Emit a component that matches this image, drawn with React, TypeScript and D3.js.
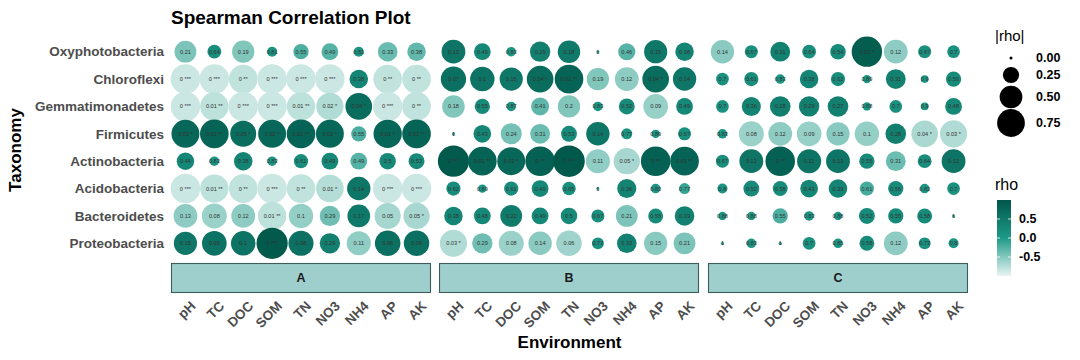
import { useRef, useEffect } from "react"
import * as d3 from "d3"

const taxa = [
  "Oxyphotobacteria",
  "Chloroflexi",
  "Gemmatimonadetes",
  "Firmicutes",
  "Actinobacteria",
  "Acidobacteria",
  "Bacteroidetes",
  "Proteobacteria",
]
const envVars = ["pH", "TC", "DOC", "SOM", "TN", "NO3", "NH4", "AP", "AK"]
const groups = ["A", "B", "C"]

// spearman rho, rows follow taxa, columns follow envVars
const rhoA = [
  [-0.46, 0.18, -0.48, 0.09, -0.22, -0.27, 0.09, -0.37, -0.33],
  [-0.85, -0.85, -0.8, -0.85, -0.85, -0.85, 0.33, -0.8, -0.8],
  [-0.85, -0.78, -0.85, -0.85, -0.78, -0.72, 0.69, -0.85, -0.8],
  [0.76, 0.8, 0.66, 0.76, 0.8, 0.76, -0.22, 0.78, 0.8],
  [0.29, 0.08, 0.33, 0.08, 0.19, 0.27, -0.27, 0.26, 0.24],
  [-0.85, -0.78, -0.8, -0.85, -0.8, -0.74, 0.53, -0.85, -0.85],
  [-0.55, -0.61, -0.55, -0.78, -0.58, -0.4, 0.5, -0.66, -0.67],
  [0.52, 0.59, 0.58, 0.95, 0.61, 0.4, -0.56, 0.63, 0.63],
]
const rhoB = [
  [0.55, 0.27, 0.08, 0.4, 0.49, 0, -0.28, 0.52, 0.33],
  [0.62, 0.58, 0.52, 0.69, 0.8, -0.48, -0.55, 0.69, 0.53],
  [-0.49, 0.22, 0.08, -0.31, -0.48, 0.08, 0.24, -0.59, 0.27],
  [0, 0.3, -0.43, -0.38, 0.24, 0.53, 0.11, 0.06, 0.16],
  [0.95, 0.8, 0.76, 0.85, 0.97, -0.56, -0.67, 0.85, 0.8],
  [0.19, 0.06, 0.19, 0.27, 0.17, 0, 0.35, 0.08, -0.11],
  [0.33, 0.27, 0.46, 0.27, 0.26, 0.16, -0.46, 0.21, 0.37],
  [-0.72, -0.4, -0.61, -0.53, -0.63, 0.13, 0.37, -0.52, -0.46],
]
const rhoC = [
  [-0.53, 0.16, 0.38, 0.18, 0.23, 0.9, -0.55, 0.16, 0.15],
  [0.15, 0.19, 0.08, 0.33, 0.19, 0.06, 0.38, 0.05, 0.22],
  [0.15, 0.35, 0.41, 0.4, 0.41, 0.06, 0.15, 0.05, 0.27],
  [0.08, -0.61, -0.55, -0.59, -0.52, -0.58, 0.41, -0.69, -0.72],
  [0.16, 0.55, 0.85, 0.56, 0.55, 0.22, -0.38, 0.18, 0.55],
  [0.09, 0.24, 0.21, 0.3, 0.33, -0.19, 0.22, 0.08, 0.15],
  [0.06, 0.06, -0.22, 0.08, 0.06, 0.24, 0.22, 0.21, 0],
  [0, 0.08, 0, 0.15, 0.08, 0.21, -0.55, 0.13, 0.09],
]

// p-value labels with significance stars
const pA = [
  ["0.21", "0.64", "0.19", "0.81", "0.55", "0.49", "0.81", "0.33", "0.38"],
  ["0 ***", "0 ***", "0 **", "0 ***", "0 ***", "0 ***", "0.38", "0 **", "0 **"],
  ["0 ***", "0.01 **", "0 ***", "0 ***", "0.01 **", "0.02 *", "0.04 *", "0 ***", "0 **"],
  ["0.02 *", "0.01 **", "0.05 *", "0.02 *", "0.01 **", "0.02 *", "0.55", "0.01 *", "0.01 **"],
  ["0.44", "0.83", "0.38", "0.83", "0.61", "0.49", "0.49", "0.5", "0.53"],
  ["0 ***", "0.01 **", "0 **", "0 ***", "0 **", "0.01 *", "0.14", "0 ***", "0 ***"],
  ["0.13", "0.08", "0.12", "0.01 **", "0.1", "0.29", "0.17", "0.05", "0.05 *"],
  ["0.15", "0.09", "0.1", "0 ***", "0.08", "0.29", "0.11", "0.06", "0.06"],
]
const pB = [
  ["0.13", "0.49", "0.83", "0.29", "0.18", "1", "0.46", "0.15", "0.38"],
  ["0.07", "0.1", "0.15", "0.04 *", "0.01 **", "0.19", "0.12", "0.04 *", "0.14"],
  ["0.18", "0.55", "0.87", "0.41", "0.2", "0.83", "0.52", "0.09", "0.49"],
  ["1", "0.43", "0.24", "0.31", "0.53", "0.14", "0.77", "0.89", "0.67"],
  ["0 ***", "0.01 **", "0.02 *", "0 **", "0 ***", "0.11", "0.05 *", "0 **", "0.01 **"],
  ["0.62", "0.89", "0.61", "0.49", "0.65", "1", "0.36", "0.83", "0.77"],
  ["0.38", "0.48", "0.22", "0.49", "0.5", "0.67", "0.21", "0.58", "0.33"],
  ["0.03 *", "0.29", "0.08", "0.14", "0.06", "0.73", "0.33", "0.15", "0.21"],
]
const pC = [
  ["0.14", "0.67", "0.31", "0.64", "0.54", "0.02 *", "0.12", "0.67", "0.7"],
  ["0.7", "0.61", "0.83", "0.38", "0.62", "0.89", "0.31", "0.9", "0.56"],
  ["0.7", "0.36", "0.28", "0.29", "0.27", "0.88", "0.7", "0.9", "0.48"],
  ["0.83", "0.08", "0.12", "0.09", "0.15", "0.1", "0.28", "0.04 *", "0.03 *"],
  ["0.67", "0.12", "0 **", "0.11", "0.13", "0.55", "0.31", "0.64", "0.12"],
  ["0.8", "0.52", "0.58", "0.43", "0.39", "0.61", "0.56", "0.83", "0.7"],
  ["0.88", "0.88", "0.55", "0.83", "0.88", "0.52", "0.55", "0.58", "1"],
  ["1", "0.83", "1", "0.7", "0.85", "0.58", "0.12", "0.73", "0.8"],
]

const sizeBreaks = [0, 0.25, 0.5, 0.75]
const colorTicks = [0.5, 0, -0.5]

export default function App() {
  const svgRef = useRef<SVGSVGElement>(null)

  function drawChart() {
    const width = 1080
    const height = 360
    const fontFamily = "'Liberation Sans', Arial, Helvetica, sans-serif"
    const panelLeft = [171, 439, 708]
    const panelWidth = 260
    const panelTop = 38
    const panelBottom = 257

    const svg = d3.select(svgRef.current).attr("width", width).attr("height", height)
    svg.selectAll("*").remove()
    svg.append("rect").attr("width", width).attr("height", height).attr("fill", "#fff")

    const y = d3.scaleBand().domain(taxa).range([panelTop, panelBottom])
    const radius = d3.scaleRadial().domain([0, 1]).range([1.5, 16])
    const color = d3
      .scaleLinear<string>()
      .domain([-1, 0, 1])
      .range(["#eaf5f3", "#1e9a88", "#00574a"])

    // Title
    svg
      .append("text")
      .text("Spearman Correlation Plot")
      .attr("x", 171)
      .attr("y", 24)
      .style("font-size", "19px")
      .style("font-weight", "bold")
      .style("font-family", fontFamily)
      .attr("fill", "#000")

    // Panels
    const allRho = [rhoA, rhoB, rhoC]
    const allP = [pA, pB, pC]
    groups.forEach((g, gi) => {
      const x = d3
        .scaleBand()
        .domain(envVars)
        .range([panelLeft[gi], panelLeft[gi] + panelWidth])
      const cells = taxa.flatMap((t, ri) =>
        envVars.map((e, ci) => ({ t, e, rho: allRho[gi][ri][ci], p: allP[gi][ri][ci] }))
      )
      const panel = svg.append("g").attr("id", `panel${g}`)
      panel
        .selectAll("circle")
        .data(cells)
        .enter()
        .append("circle")
        .attr("cx", (d) => x(d.e)! + x.bandwidth() / 2)
        .attr("cy", (d) => y(d.t)! + y.bandwidth() / 2)
        .attr("r", (d) => radius(Math.abs(d.rho)))
        .attr("fill", (d) => color(d.rho))
      panel
        .selectAll("text.plab")
        .data(cells)
        .enter()
        .append("text")
        .attr("class", "plab")
        .text((d) => d.p)
        .attr("x", (d) => x(d.e)! + x.bandwidth() / 2)
        .attr("y", (d) => y(d.t)! + y.bandwidth() / 2)
        .attr("dy", "0.35em")
        .attr("text-anchor", "middle")
        .attr("fill", "#333")
        .style("font-size", "5.6px")
        .style("font-family", fontFamily)

      // strip
      panel
        .append("rect")
        .attr("x", panelLeft[gi] + 0.5)
        .attr("y", 263.5)
        .attr("width", panelWidth - 1)
        .attr("height", 29)
        .attr("fill", "#9ecfcc")
        .attr("stroke", "#3d5c5a")
        .attr("stroke-width", 1.1)
      panel
        .append("text")
        .text(g)
        .attr("x", panelLeft[gi] + panelWidth / 2)
        .attr("y", 278)
        .attr("dy", "0.35em")
        .attr("text-anchor", "middle")
        .attr("fill", "#1a1a1a")
        .style("font-size", "12.5px")
        .style("font-weight", "bold")
        .style("font-family", fontFamily)

      // x tick labels
      panel
        .selectAll("text.xlab")
        .data(envVars)
        .enter()
        .append("text")
        .attr("class", "xlab")
        .text((d) => d)
        .attr("transform", (d) => `translate(${x(d)! + x.bandwidth() / 2 + 4}, 300) rotate(-45)`)
        .attr("dy", "0.72em")
        .attr("text-anchor", "end")
        .attr("fill", "#4d4d4d")
        .style("font-size", "13.5px")
        .style("font-weight", "bold")
        .style("font-family", fontFamily)
    })

    // Left axis
    svg
      .append("g")
      .selectAll("text")
      .data(taxa)
      .enter()
      .append("text")
      .text((d) => d)
      .attr("x", 164)
      .attr("y", (d) => y(d)! + y.bandwidth() / 2)
      .attr("dy", "0.35em")
      .attr("text-anchor", "end")
      .attr("fill", "#4d4d4d")
      .style("font-size", "13.5px")
      .style("font-weight", "bold")
      .style("font-family", fontFamily)

    // Axis titles
    svg
      .append("text")
      .text("Environment")
      .attr("x", 569.5)
      .attr("y", 348)
      .attr("text-anchor", "middle")
      .style("font-size", "17px")
      .style("font-weight", "bold")
      .style("font-family", fontFamily)
    svg
      .append("text")
      .text("Taxonomy")
      .attr("transform", "translate(21, 150) rotate(-90)")
      .attr("text-anchor", "middle")
      .style("font-size", "17px")
      .style("font-weight", "bold")
      .style("font-family", fontFamily)

    // Size legend
    const sizeLegend = svg.append("g").attr("id", "sizeLegend")
    sizeLegend
      .append("text")
      .text("|rho|")
      .attr("x", 995)
      .attr("y", 41)
      .style("font-size", "15px")
      .style("font-family", fontFamily)
    const sizeY = [58, 75, 97, 123]
    sizeLegend
      .selectAll("circle")
      .data(sizeBreaks)
      .enter()
      .append("circle")
      .attr("cx", 1011)
      .attr("cy", (d, i) => sizeY[i])
      .attr("r", (d) => radius(d))
      .attr("fill", "#000")
    sizeLegend
      .selectAll("text.slab")
      .data(sizeBreaks)
      .enter()
      .append("text")
      .attr("class", "slab")
      .text((d) => d3.format(".2f")(d))
      .attr("x", 1036)
      .attr("y", (d, i) => sizeY[i])
      .attr("dy", "0.35em")
      .style("font-size", "12.5px")
      .style("font-weight", "bold")
      .style("font-family", fontFamily)

    // Colour legend
    const barTop = 200
    const barBottom = 276
    const barScale = d3.scaleLinear().domain([1, -1]).range([barTop, barBottom])
    const defs = svg.append("defs")
    const grad = defs
      .append("linearGradient")
      .attr("id", "rhoGrad")
      .attr("x1", 0)
      .attr("y1", 0)
      .attr("x2", 0)
      .attr("y2", 1)
    d3.range(0, 1.0001, 0.1).forEach((t) => {
      grad
        .append("stop")
        .attr("offset", t)
        .attr("stop-color", color(1 - 2 * t))
    })
    const colorLegend = svg.append("g").attr("id", "colorLegend")
    colorLegend
      .append("text")
      .text("rho")
      .attr("x", 995)
      .attr("y", 190)
      .style("font-size", "16px")
      .style("font-family", fontFamily)
    colorLegend
      .append("rect")
      .attr("x", 997)
      .attr("y", barTop)
      .attr("width", 14)
      .attr("height", barBottom - barTop)
      .attr("fill", "url(#rhoGrad)")
    colorTicks.forEach((v) => {
      colorLegend
        .append("line")
        .attr("x1", 997)
        .attr("x2", 1000)
        .attr("y1", barScale(v))
        .attr("y2", barScale(v))
        .attr("stroke", "#fff")
        .attr("stroke-width", 0.8)
      colorLegend
        .append("line")
        .attr("x1", 1008)
        .attr("x2", 1011)
        .attr("y1", barScale(v))
        .attr("y2", barScale(v))
        .attr("stroke", "#fff")
        .attr("stroke-width", 0.8)
    })
    colorLegend
      .selectAll("text.clab")
      .data(colorTicks)
      .enter()
      .append("text")
      .attr("class", "clab")
      .text((d) => d.toFixed(1))
      .attr("x", 1019)
      .attr("y", (d) => barScale(d))
      .attr("dy", "0.35em")
      .style("font-size", "12.5px")
      .style("font-weight", "bold")
      .style("font-family", fontFamily)
  }

  useEffect(() => {
    drawChart()
  }, [svgRef])

  return (
    <div style={{ position: "absolute", left: 0, top: 0 }}>
      <svg ref={svgRef}></svg>
    </div>
  )
}
